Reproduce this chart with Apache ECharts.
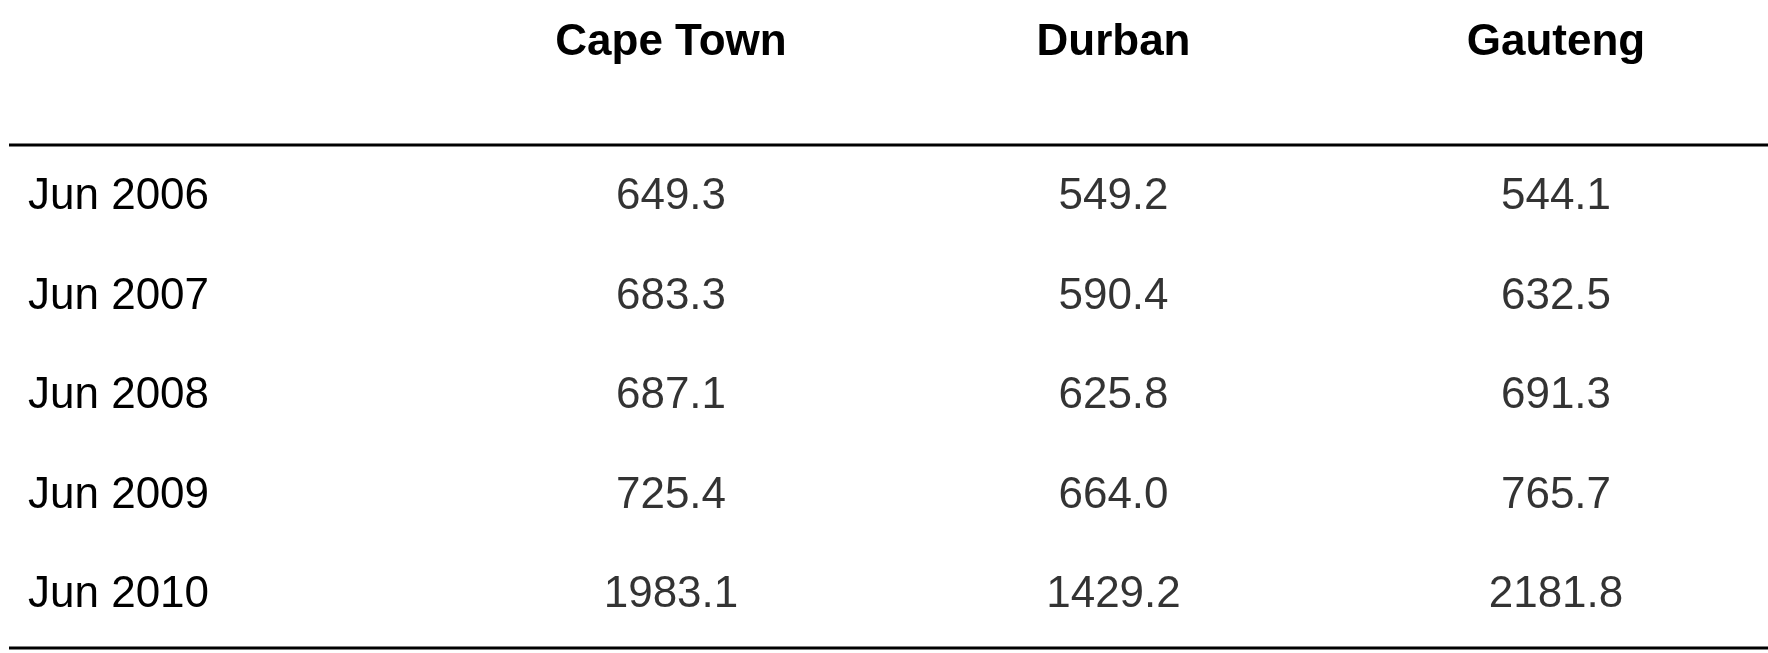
<!DOCTYPE html>
<html>
<head>
<meta charset="utf-8">
<script src="https://cdn.jsdelivr.net/npm/echarts@6/dist/echarts.min.js"></script>
<style>html,body{margin:0;padding:0;background:#fff}#c{width:1768px;height:653px}</style>
</head>
<body>
<div id="c"></div>
<script>
var cities = ['Cape Town', 'Durban', 'Gauteng'];
var periods = ['Jun 2006', 'Jun 2007', 'Jun 2008', 'Jun 2009', 'Jun 2010'];
var capeTown = [649.3, 683.3, 687.1, 725.4, 1983.1];
var durban = [549.2, 590.4, 625.8, 664.0, 1429.2];
var gauteng = [544.1, 632.5, 691.3, 765.7, 2181.8];

var cols = [capeTown, durban, gauteng];
var cells = [];
for (var c = 0; c < cols.length; c++) {
    for (var r = 0; r < periods.length; r++) {
        cells.push([c, r, cols[c][r]]);
    }
}

var font = 'Liberation Sans, Arial, sans-serif';
var chart = echarts.init(document.getElementById('c'));
chart.setOption({
    animation: false,
    backgroundColor: '#fff',
    grid: { left: 671, right: 212, top: 197, bottom: 58 },
    xAxis: {
        type: 'category', data: cities, position: 'top', boundaryGap: false,
        axisLine: { show: false }, axisTick: { show: false }, splitLine: { show: false },
        axisLabel: { margin: 132, color: '#000', fontWeight: 'bold', fontSize: 44, fontFamily: font }
    },
    yAxis: {
        type: 'category', data: periods, inverse: true, boundaryGap: false,
        axisLine: { show: false }, axisTick: { show: false }, splitLine: { show: false },
        axisLabel: { margin: 643, align: 'left', color: '#000', fontSize: 44, fontFamily: font }
    },
    series: [{
        type: 'scatter', symbolSize: 0, data: cells,
        label: {
            show: true, position: 'inside', color: '#000', fontSize: 44, fontFamily: font,
            formatter: function (p) { return p.value[2].toFixed(1); }
        }
    }],
    graphic: [
        { type: 'line', shape: { x1: 9, y1: 145, x2: 1768, y2: 145 }, style: { stroke: '#000', lineWidth: 3 } },
        { type: 'line', shape: { x1: 9, y1: 648, x2: 1768, y2: 648 }, style: { stroke: '#000', lineWidth: 3 } }
    ]
});
</script>
</body>
</html>
